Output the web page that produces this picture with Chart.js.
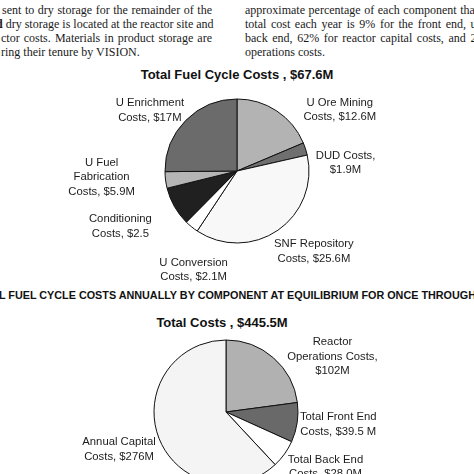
<!DOCTYPE html>
<html>
<head>
<meta charset="utf-8">
<script src="https://cdn.jsdelivr.net/npm/chart.js@4.4.1/dist/chart.umd.min.js"></script>
<style>
  html, body { margin: 0; padding: 0; background: #fff; }
  body { width: 474px; height: 474px; overflow: hidden; position: relative; }
  .txt { position: absolute; font-family: "Liberation Serif", "Times New Roman", serif; font-size: 12px; color: #1a1a1a; white-space: nowrap; line-height: 14px; }
  .just { text-align: justify; text-align-last: justify; }
  .ttl { position: absolute; left: 0; width: 474px; text-align: center; font-family: "Liberation Sans", Arial, sans-serif; font-weight: bold; font-size: 13px; color: #111; }
  .cap { position: absolute; white-space: nowrap; font-family: "Liberation Sans", Arial, sans-serif; font-weight: bold; font-size: 10.8px; color: #111; }
  .box { position: absolute; left: 0; }
</style>
</head>
<body>
<div class="txt just" style="left:2px; top:3px; width:210px;">sent to dry storage for the remainder of the</div>
<div class="txt just" style="left:-4px; top:17px; width:216px;"><b>d</b> dry storage is located at the reactor site and</div>
<div class="txt just" style="left:1px; top:31px; width:211px;">ctor costs. Materials in product storage are</div>
<div class="txt" style="left:1px; top:45px;">ring their tenure by VISION.</div>

<div class="txt" style="left:245px; top:3px; word-spacing:0.6px;">approximate percentage of each component that</div>
<div class="txt" style="left:245px; top:17px; word-spacing:1.6px;">total cost each year is 9% for the front end, up</div>
<div class="txt" style="left:245px; top:31px; word-spacing:1.6px;">back end, 62% for reactor capital costs, and 23%</div>
<div class="txt" style="left:245px; top:45px;">operations costs.</div>

<div class="ttl" style="top:67px;">Total Fuel Cycle Costs , $67.6M</div>
<div class="box" style="top:88px;"><canvas id="fuel" width="474" height="200"></canvas></div>

<div class="cap" style="right:-2px; top:289px;">TOTAL FUEL CYCLE COSTS ANNUALLY BY COMPONENT AT EQUILIBRIUM FOR ONCE THROUGH</div>

<div class="ttl" style="top:315px; left:-15px;">Total Costs , $445.5M</div>
<div class="box" style="top:328px;"><canvas id="total" width="474" height="170"></canvas></div>

<script>
// fuel cycle components, clockwise from 12 o'clock
var fuelCategories = ['U Ore Mining', 'DUD', 'SNF Repository', 'U Conversion', 'U Fuel Fabrication', 'Conditioning', 'U Enrichment'];
var fuelValues = [12.6, 1.9, 25.6, 2.1, 5.9, 2.5, 17];
var fuelLabels = [
  ['U Ore Mining', 'Costs, $12.6M'],
  ['DUD Costs,', '$1.9M'],
  ['SNF Repository', 'Costs, $25.6M'],
  ['U Conversion', 'Costs, $2.1M'],
  ['Conditioning', 'Costs, $2.5'],
  ['U Fuel', 'Fabrication', 'Costs, $5.9M'],
  ['U Enrichment', 'Costs, $17M']
];
var fuelColors = ['#b3b3b3', '#6f6f6f', '#f8f8f8', '#ffffff', '#202020', '#b5b5b5', '#6b6b6b'];

// total annual costs
var totalCategories = ['Reactor Operations', 'Total Front End', 'Total Back End', 'Annual Capital'];
var totalValues = [102, 39.5, 28.0, 276];
var totalLabels = [
  ['Reactor', 'Operations Costs,', '$102M'],
  ['Total Front End', 'Costs, $39.5 M'],
  ['Total Back End', 'Costs, $28.0M'],
  ['Annual Capital', 'Costs, $276M']
];
var totalColors = ['#b1b1b1', '#696969', '#ffffff', '#f4f4f4'];

// label nudges from the slice's mid point on the rim
var fuelNudge = [[63, -1], [40, 14], [36, 21], [2, 43], [-54, 20], [-64, -3], [-36, -10]];
var totalNudge = [[59, -1], [41, 2], [41, 13], [-40, 11]];

var outsideLabels = {
  id: 'outsideLabels',
  afterDatasetsDraw: function (chart) {
    var o = chart.options.plugins.outsideLabels;
    var ctx = chart.ctx;
    var arcs = chart.getDatasetMeta(0).data;
    ctx.save();
    ctx.font = '11.3px "Liberation Sans", Arial, sans-serif';
    ctx.fillStyle = '#1c1c1c';
    ctx.textAlign = 'center';
    ctx.textBaseline = 'middle';
    arcs.forEach(function (arc, i) {
      var p = arc.getProps(['x', 'y', 'startAngle', 'endAngle', 'outerRadius'], true);
      var mid = (p.startAngle + p.endAngle) / 2;
      var cx = p.x + Math.cos(mid) * p.outerRadius + o.nudge[i][0];
      var cy = p.y + Math.sin(mid) * p.outerRadius + o.nudge[i][1];
      var lines = o.lines[i];
      var lh = 14.5;
      lines.forEach(function (t, k) {
        ctx.fillText(t, cx, cy + (k - (lines.length - 1) / 2) * lh);
      });
    });
    ctx.restore();
  }
};

function makePie(id, cats, vals, colors, lines, nudge, pad) {
  return new Chart(document.getElementById(id), {
    type: 'pie',
    data: {
      labels: cats,
      datasets: [{
        data: vals,
        backgroundColor: colors,
        borderColor: '#111',
        borderWidth: 1
      }]
    },
    options: {
      responsive: false,
      animation: false,
      layout: { padding: pad },
      plugins: {
        legend: { display: false },
        tooltip: { enabled: false },
        outsideLabels: { lines: lines, nudge: nudge }
      }
    },
    plugins: [outsideLabels]
  });
}

makePie('fuel', fuelCategories, fuelValues, fuelColors, fuelLabels, fuelNudge,
  { left: 164.5, right: 164.5, top: 10.5, bottom: 44.5 });
makePie('total', totalCategories, totalValues, totalColors, totalLabels, totalNudge,
  { left: 153.5, right: 175.5, top: 11.5, bottom: 13.5 });
</script>
</body>
</html>
